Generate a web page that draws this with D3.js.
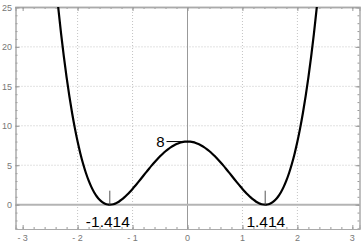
<!DOCTYPE html>
<html>
<head>
<meta charset="utf-8">
<script src="https://cdn.jsdelivr.net/npm/d3@7"></script>
<style>
  body { margin: 0; background: #fff; }
  svg { display: block; font-family: "Liberation Sans", Arial, sans-serif; }
</style>
</head>
<body>
<svg width="362" height="243"></svg>
<script>
// curve samples
const xs = [-2.36, -2.3, -2.25, -2.2, -2.15, -2.1, -2.05, -2.0, -1.95, -1.9, -1.85, -1.8, -1.75, -1.7, -1.65, -1.6, -1.55, -1.5, -1.45, -1.414,
  -1.35, -1.3, -1.25, -1.2, -1.15, -1.1, -1.05, -1.0, -0.95, -0.9, -0.85, -0.8, -0.75, -0.7, -0.65, -0.6, -0.55, -0.5, -0.45, -0.4,
  -0.35, -0.3, -0.25, -0.2, -0.15, -0.1, -0.05, 0,
  0.05, 0.1, 0.15, 0.2, 0.25, 0.3, 0.35, 0.4, 0.45, 0.5, 0.55, 0.6, 0.65, 0.7, 0.75, 0.8, 0.85, 0.9, 0.95, 1.0,
  1.05, 1.1, 1.15, 1.2, 1.25, 1.3, 1.35, 1.414, 1.45, 1.5, 1.55, 1.6, 1.65, 1.7, 1.75, 1.8, 1.85, 1.9, 1.95, 2.0,
  2.05, 2.1, 2.15, 2.2, 2.25, 2.3, 2.36];
const ys = [25.48, 21.65, 18.76, 16.13, 13.76, 11.62, 9.70, 8.0, 6.50, 5.18, 4.05, 3.08, 2.26, 1.58, 1.04, 0.63, 0.32, 0.125, 0.02, 0,
  0.06, 0.19, 0.38, 0.63, 0.92, 1.25, 1.61, 2.0, 2.41, 2.83, 3.26, 3.70, 4.13, 4.56, 4.98, 5.38, 5.76, 6.13, 6.46, 6.77,
  7.05, 7.30, 7.51, 7.68, 7.82, 7.92, 7.98, 8.0,
  7.98, 7.92, 7.82, 7.68, 7.51, 7.30, 7.05, 6.77, 6.46, 6.13, 5.76, 5.38, 4.98, 4.56, 4.13, 3.70, 3.26, 2.83, 2.41, 2.0,
  1.61, 1.25, 0.92, 0.63, 0.38, 0.19, 0.06, 0, 0.02, 0.125, 0.32, 0.63, 1.04, 1.58, 2.26, 3.08, 4.05, 5.18, 6.50, 8.0,
  9.70, 11.62, 13.76, 16.13, 18.76, 21.65, 25.48];

const xTicks = [-3, -2, -1, 0, 1, 2, 3];
const yTicks = [0, 5, 10, 15, 20, 25];
const xGrid = [-2, -1, 1, 2];
const yGrid = [5, 10, 15, 20];
const minima = [-1.414, 1.414];
const peak = { x: 0, y: 8, label: "8" };

var svg = d3.select("svg");

var x = d3.scaleLinear().domain([-3.13, 3.13]).range([15.5, 359.5]);
var y = d3.scaleLinear().domain([-3.08, 25.05]).range([229, 7]);

var fmtX = d => (d < 0 ? "- " + Math.abs(d) : String(d));

// clip
svg.append("clipPath").attr("id", "plot")
  .append("rect")
  .attr("x", x.range()[0]).attr("y", y.range()[1])
  .attr("width", x.range()[1] - x.range()[0])
  .attr("height", y.range()[0] - y.range()[1]);

// dotted grid
svg.selectAll(".gx").data(xGrid).enter().append("line")
  .attr("x1", d => x(d)).attr("x2", d => x(d))
  .attr("y1", y.range()[0]).attr("y2", y.range()[1])
  .attr("stroke", "#c4c4c4").attr("stroke-dasharray", "1,2");
svg.selectAll(".gy").data(yGrid).enter().append("line")
  .attr("y1", d => y(d)).attr("y2", d => y(d))
  .attr("x1", x.range()[0]).attr("x2", x.range()[1])
  .attr("stroke", "#c4c4c4").attr("stroke-dasharray", "1,2");

// axes through origin
svg.append("line")
  .attr("x1", x(0)).attr("x2", x(0))
  .attr("y1", y.range()[0]).attr("y2", y.range()[1])
  .attr("stroke", "#999").attr("stroke-width", 1);
svg.append("line")
  .attr("x1", x.range()[0]).attr("x2", x.range()[1])
  .attr("y1", y(0)).attr("y2", y(0))
  .attr("stroke", "#b4b4b4").attr("stroke-width", 2);

// frame with inward ticks
var frame = [
  { axis: d3.axisBottom(x), t: `translate(0,${y.range()[0]})`, minor: d3.axisBottom(x) },
  { axis: d3.axisTop(x), t: `translate(0,${y.range()[1]})`, minor: d3.axisTop(x) },
  { axis: d3.axisLeft(y), t: `translate(${x.range()[0]},0)`, minor: d3.axisLeft(y) },
  { axis: d3.axisRight(y), t: `translate(${x.range()[1]},0)`, minor: d3.axisRight(y) }
];
frame.forEach(function(f, i) {
  var isX = i < 2;
  var major = isX ? xTicks : yTicks;
  var minorVals = isX ? d3.range(-31, 32).map(v => v / 10).filter(v => Math.round(v * 10) % 2 === 0)
                      : d3.range(-3, 26);
  var g = svg.append("g").attr("transform", f.t);
  g.call(f.minor.tickValues(minorVals).tickSize(-2).tickFormat(""));
  var g2 = svg.append("g").attr("transform", f.t);
  g2.call(f.axis.tickValues(major).tickSize(-4).tickFormat(""));
  [g, g2].forEach(gg => {
    gg.select(".domain").attr("stroke", "#aaa").attr("stroke-width", i === 1 ? 1.5 : 1);
    gg.selectAll(".tick line").attr("stroke", "#999");
    gg.selectAll(".tick text").remove();
  });
});

// tick labels
svg.selectAll(".xl").data(xTicks).enter().append("text")
  .attr("x", d => x(d)).attr("y", 241)
  .attr("text-anchor", "middle").attr("font-size", 9).attr("fill", "#777")
  .text(fmtX);
svg.selectAll(".yl").data(yTicks).enter().append("text")
  .attr("x", 12).attr("y", d => y(d) + 3.5)
  .attr("text-anchor", "end").attr("font-size", 9).attr("fill", "#777")
  .text(d => d);

// curve
var line = d3.line()
  .x((d, i) => x(xs[i]))
  .y(d => y(d))
  .curve(d3.curveCatmullRom);
svg.append("path")
  .datum(ys)
  .attr("clip-path", "url(#plot)")
  .attr("d", line)
  .attr("fill", "none").attr("stroke", "#000").attr("stroke-width", 2.2);

// minimum markers
svg.selectAll(".mk").data(minima).enter().append("line")
  .attr("x1", d => x(d)).attr("x2", d => x(d))
  .attr("y1", y(0) - 14).attr("y2", y(0))
  .attr("stroke", "#555").attr("stroke-width", 1);
svg.selectAll(".ml").data(minima).enter().append("text")
  .attr("x", d => x(d) + 20).attr("y", y(0) + 22)
  .attr("text-anchor", "end").attr("font-size", 15.5).attr("fill", "#000")
  .text(d => d3.format(".3f")(d).replace("−", "-"));

// peak label
svg.append("line")
  .attr("x1", x(peak.x) - 21).attr("x2", x(peak.x))
  .attr("y1", y(peak.y)).attr("y2", y(peak.y))
  .attr("stroke", "#000").attr("stroke-width", 1);
svg.append("text")
  .attr("x", x(peak.x) - 23).attr("y", y(peak.y) + 5)
  .attr("text-anchor", "end").attr("font-size", 15)
  .text(peak.label);
</script>
</body>
</html>
